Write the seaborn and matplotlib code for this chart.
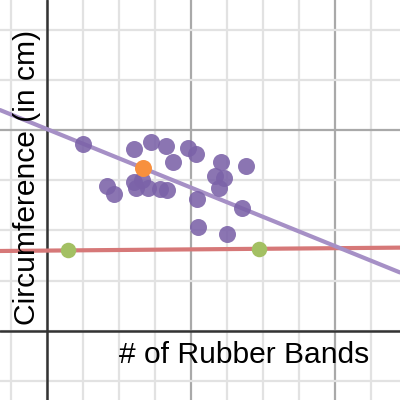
import numpy as np
import pandas as pd
import matplotlib
matplotlib.use("Agg")
import matplotlib.pyplot as plt
import seaborn as sns

# rubber bands vs circumference
bands = [4.96, 12.08, 14.44, 16.53, 19.58, 20.76, 17.46, 24.17, 27.64,
         8.38, 9.35, 12.08, 13.15, 12.36, 14.03, 15.69, 16.67,
         23.33, 24.58, 23.93, 20.88, 27.04, 21.01, 25.04]
circ = [18.61, 18.11, 18.76, 18.41, 18.21, 17.61, 16.85, 16.85, 16.45,
        14.46, 13.60, 14.80, 15.02, 14.20, 14.23, 14.13, 14.08,
        15.42, 15.19, 14.26, 13.13, 12.27, 10.38, 9.62]

mean_x = [13.29]
mean_y = [16.25]

green_x = [2.96, 29.49]
green_y = [8.06, 8.16]

# fitted lines: intercept, slope
fit_intercept, fit_slope = 20.09, -0.291
flat_intercept, flat_slope = 8.0, 0.006

xmin, xmax = -6.53, 49.03
ymin, ymax = -6.87, 32.94

sns.set_style("white")
plt.rcParams['font.family'] = ['Liberation Sans', 'DejaVu Sans']

fig = plt.figure(figsize=(4, 4), dpi=100)
ax = fig.add_axes([0, 0, 1, 1])

# grid
ax.set_xticks(np.arange(-5, 50, 5), minor=True)
ax.set_yticks(np.arange(-5, 35, 5), minor=True)
ax.set_xticks([20, 40])
ax.set_yticks([20])
ax.grid(which='minor', color='#e2e2e2', lw=1.6)
ax.grid(which='major', color='#a9a9a9', lw=1.6)
ax.tick_params(which='both', length=0, labelbottom=False, labelleft=False)
ax.set_axisbelow(True)
for s in ax.spines.values():
    s.set_visible(False)
ax.axhline(0, color='#333333', lw=1.8, zorder=1)
ax.axvline(0, color='#333333', lw=1.8, zorder=1)

xs = np.array([xmin, xmax])
lines = pd.DataFrame({
    'x': np.concatenate([xs, xs]),
    'y': np.concatenate([fit_intercept + fit_slope * xs, flat_intercept + flat_slope * xs]),
    'which': ['fit', 'fit', 'flat', 'flat'],
})
sns.lineplot(data=lines[lines.which == 'flat'], x='x', y='y', color='#d67878',
             lw=3, ax=ax, zorder=2)
sns.lineplot(data=lines[lines.which == 'fit'], x='x', y='y', color='#a690c6',
             lw=3, ax=ax, zorder=3)

pts = pd.DataFrame({'bands': bands, 'circ': circ})
sns.scatterplot(data=pts, x='bands', y='circ', s=150, color='#7b62a8',
                alpha=0.88, linewidth=0, ax=ax, zorder=4)
sns.scatterplot(x=mean_x, y=mean_y, s=150, color='#f7903e', linewidth=0,
                ax=ax, zorder=5)
sns.scatterplot(x=green_x, y=green_y, s=125, color='#a3c063', linewidth=0,
                ax=ax, zorder=5)

ax.set_xlim(xmin, xmax)
ax.set_ylim(ymin, ymax)
ax.set_xlabel('')
ax.set_ylabel('')

ax.text(0.61, 0.112, '# of Rubber Bands', transform=ax.transAxes,
        ha='center', va='center', fontsize=21.6, color='black')
ax.text(0.067, 0.557, 'Circumference (in cm)', transform=ax.transAxes,
        ha='center', va='center', rotation=90, fontsize=21.6, color='black')

fig.savefig('out.png', dpi=100)
